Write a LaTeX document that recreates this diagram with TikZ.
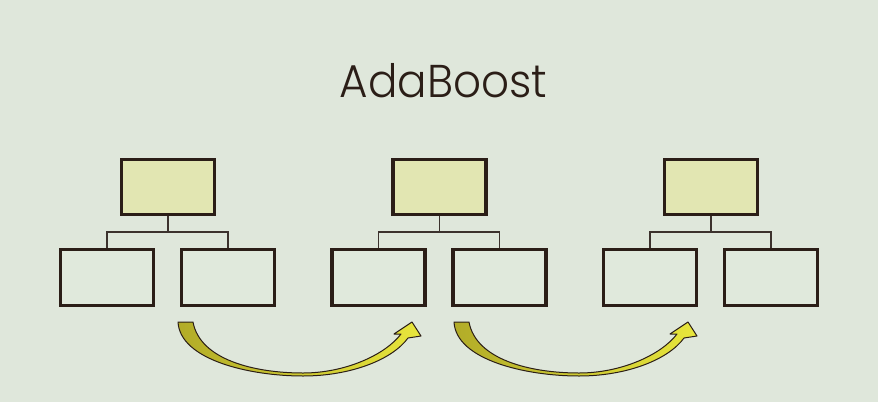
\documentclass[tikz,border=0pt]{standalone}
\usepackage{fontspec}
\setmainfont{Poppins}
\newfontfamily\titlefont{Poppins}[UprightFont=* Light]
\definecolor{bgc}{RGB}{223,231,219}
\definecolor{topfill}{RGB}{226,230,178}
\definecolor{leaffill}{RGB}{224,233,220}
\definecolor{ink}{RGB}{43,30,23}
\definecolor{linkc}{RGB}{60,50,45}
\definecolor{arrowdark}{RGB}{178,172,40}
\definecolor{arrowlight}{RGB}{232,230,60}
\tikzset{
  topbox/.style={draw=ink, fill=topfill, line width=3.2pt, minimum width=93pt, minimum height=55pt, inner sep=0pt},
  leafbox/.style={draw=ink, fill=leaffill, line width=3.2pt, minimum width=93pt, minimum height=56pt, inner sep=0pt},
  link/.style={draw=linkc, line width=1.6pt},
  bigarrow/.pic={
    \path[draw=ink, line width=1pt, line join=round, left color=arrowdark, right color=arrowlight]
      (0,0) .. controls (2,38) and (72,54) .. (125,54)
      .. controls (172,54) and (214,38) .. (230,16)
      -- (243,14) -- (234,0) -- (216,12) -- (223,12)
      .. controls (207,33) and (167,51) .. (125,51)
      .. controls (77,51) and (22,38) .. (15,0) -- cycle;
  }
}
\begin{document}
\begin{tikzpicture}[x=1pt,y=-1pt]
\fill[bgc] (0,0) rectangle (878,402);
\useasboundingbox (0,0) rectangle (878,402);
\node[text=ink, font=\titlefont\fontsize{46}{52}\selectfont, inner sep=0pt, anchor=base] (title) at (443.5,97) {\scalebox{0.95}[1]{AdaBoost}};
\foreach \i/\dx in {1/0,2/271.5,3/543}{
  \node[topbox] (t\i) at (168+\dx,187) {};
  \node[leafbox] (l\i) at (107+\dx,277.5) {};
  \node[leafbox] (r\i) at (228+\dx,277.5) {};
  \coordinate (j\i) at (168+\dx,232);
  \draw[link] (t\i.south) -- (j\i);
  \draw[link] (l\i.north) |- (j\i) -| (r\i.north);
}
\pic at (178,322) {bigarrow};
\pic at (454,322) {bigarrow};
\end{tikzpicture}
\end{document}
